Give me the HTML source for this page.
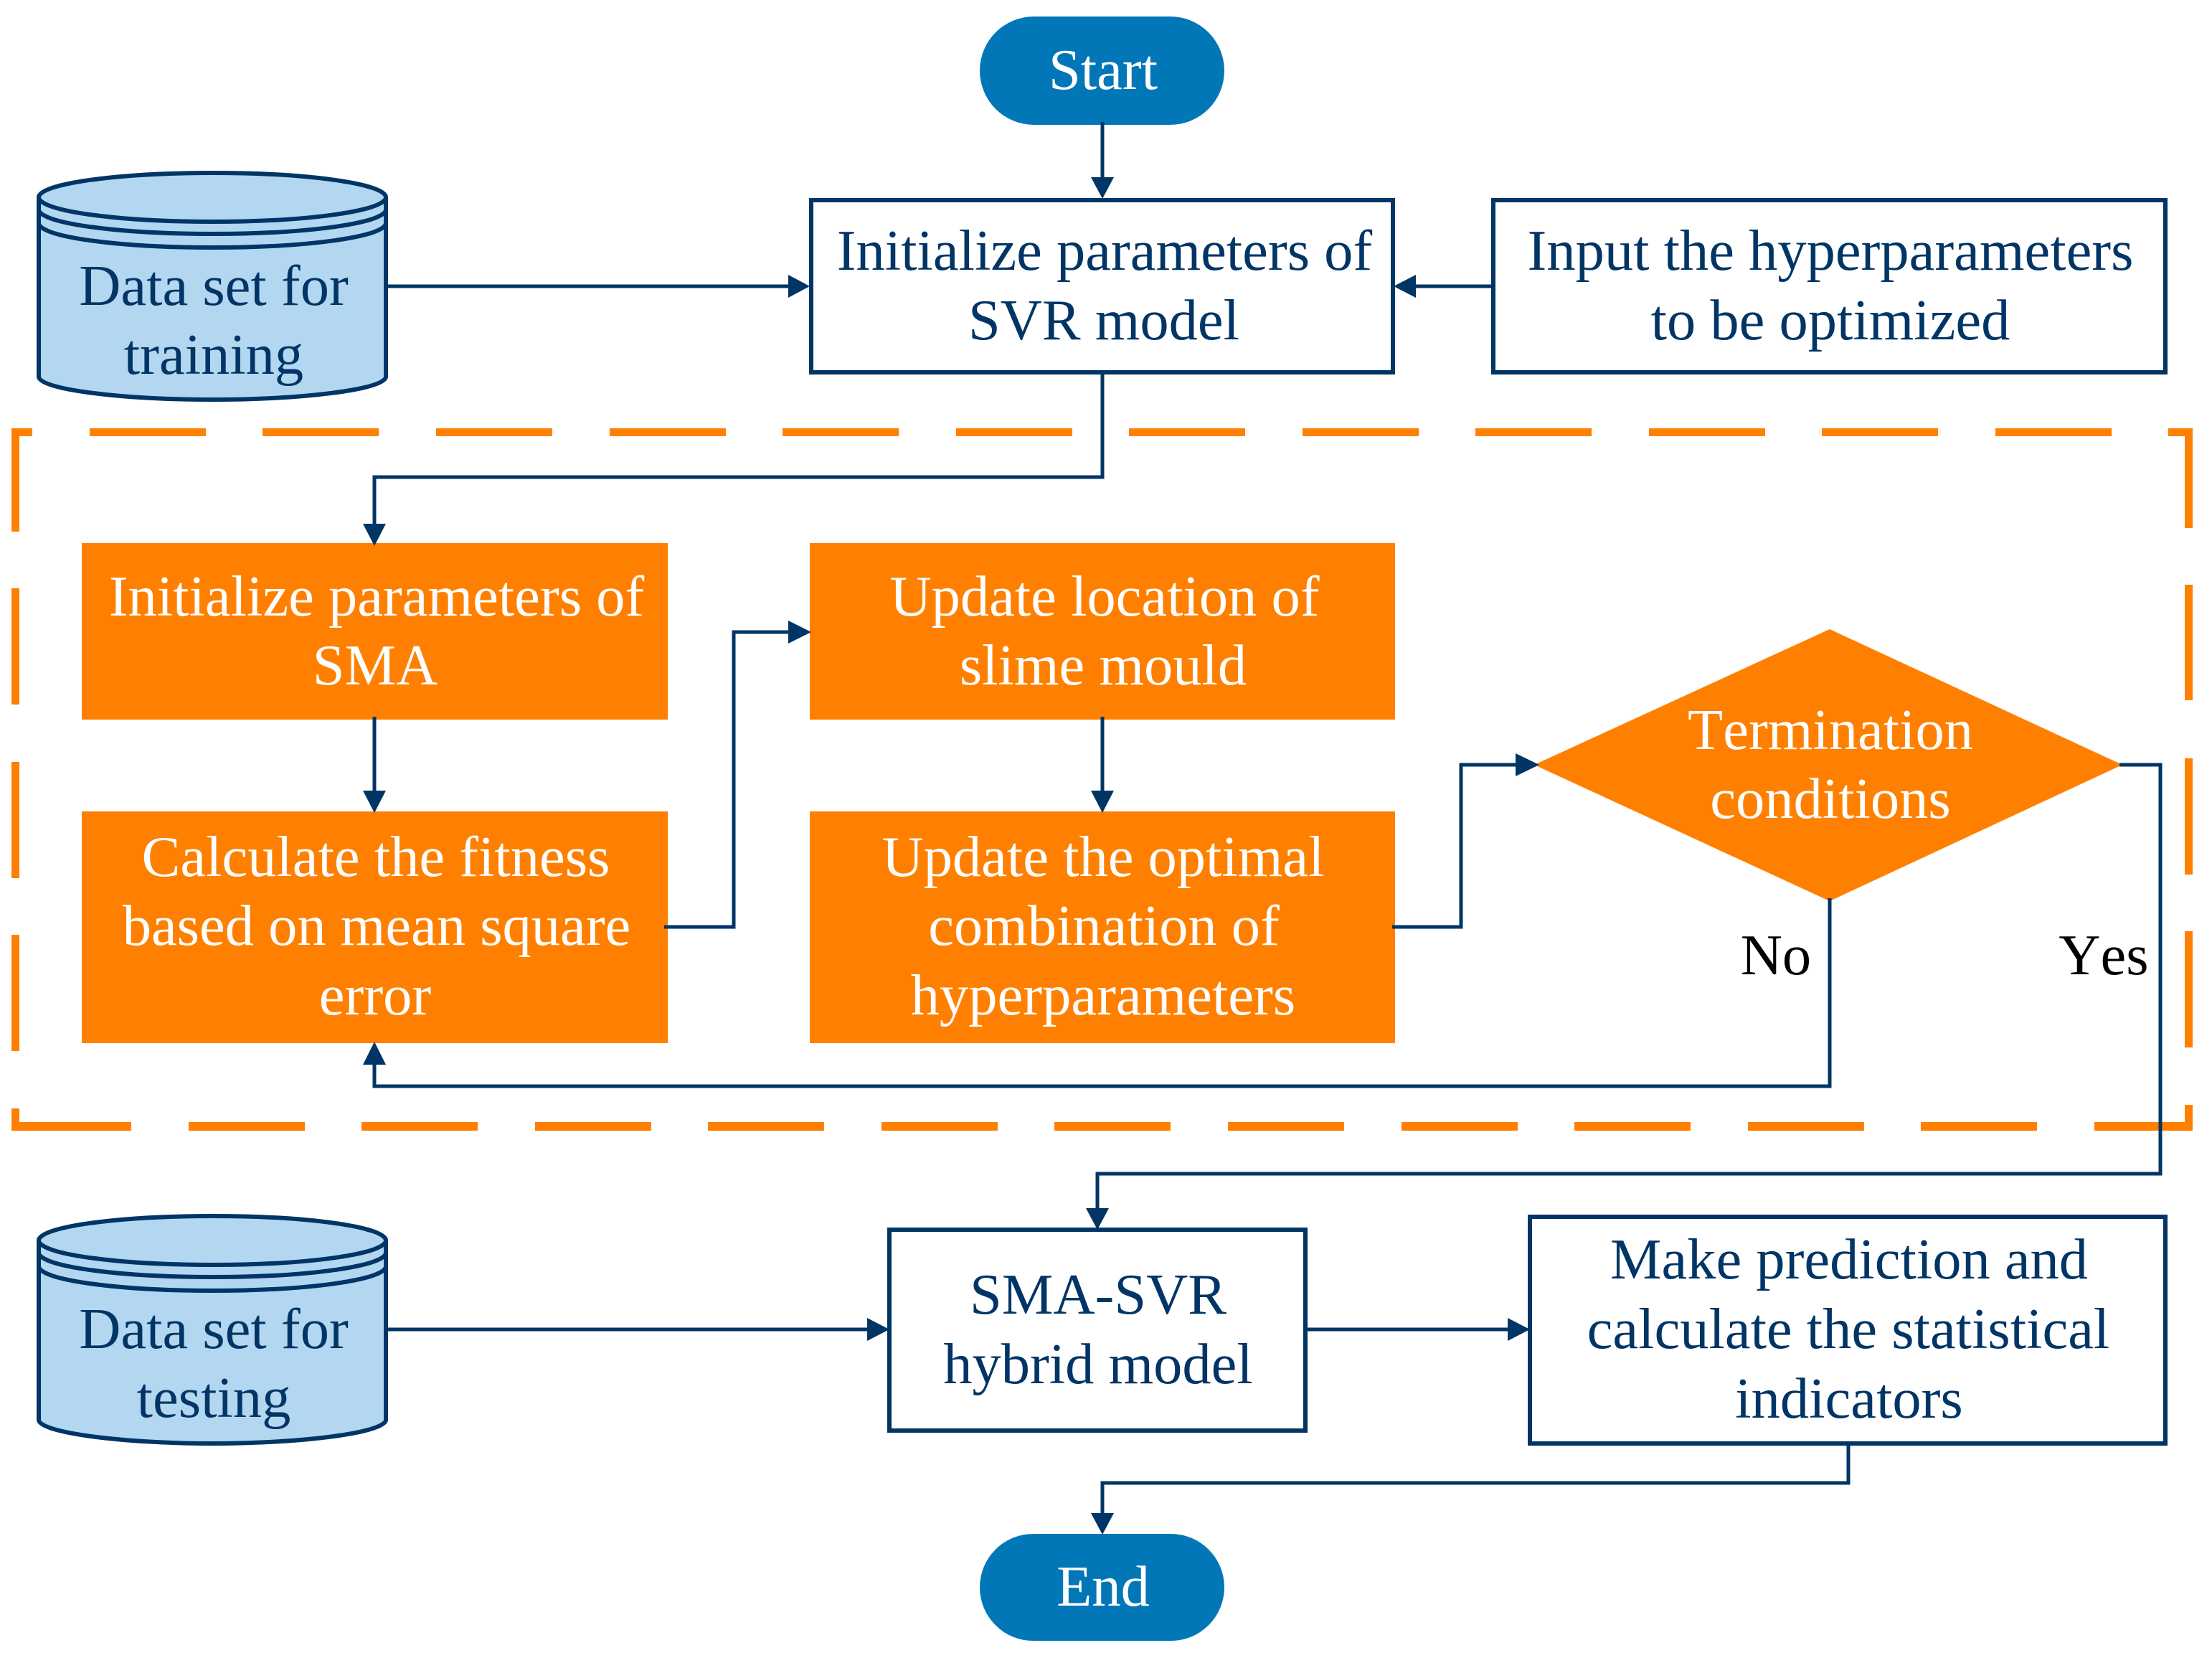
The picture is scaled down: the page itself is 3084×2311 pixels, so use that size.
<!DOCTYPE html>
<html><head><meta charset="utf-8"><style>
html,body{margin:0;padding:0;background:#fff}
svg{display:block}
text{font-family:"Liberation Serif",serif;font-size:80.5px;text-anchor:middle;font-kerning:none}
.n{fill:#003566}.w{fill:#fff}.k{fill:#000}
.l{fill:none;stroke:#003566;stroke-width:5}
.b{fill:#fff;stroke:#003566;stroke-width:6}
.c{fill:#b3d7f0;stroke:#003566;stroke-width:6}
.o{fill:#ff8000}
.a{fill:#003566}
</style></head><body>
<svg width="3084" height="2311" viewBox="0 0 3084 2311" xmlns="http://www.w3.org/2000/svg">
<g class="o">
<rect x="16" y="597" width="29" height="11"/>
<rect x="125" y="597" width="162" height="11"/><rect x="366" y="597" width="162" height="11"/><rect x="608" y="597" width="162" height="11"/><rect x="850" y="597" width="162" height="11"/><rect x="1091" y="597" width="162" height="11"/><rect x="1333" y="597" width="162" height="11"/><rect x="1574" y="597" width="162" height="11"/><rect x="1816" y="597" width="162" height="11"/><rect x="2057" y="597" width="162" height="11"/><rect x="2299" y="597" width="162" height="11"/><rect x="2540" y="597" width="162" height="11"/><rect x="2782" y="597" width="162" height="11"/><rect x="3023" y="597" width="34" height="11"/>
<rect x="16" y="597" width="11" height="144"/><rect x="16" y="820" width="11" height="162"/><rect x="16" y="1062" width="11" height="162"/><rect x="16" y="1303" width="11" height="162"/><rect x="16" y="1545" width="11" height="31"/>
<rect x="3046" y="597" width="11" height="139"/><rect x="3046" y="815" width="11" height="161"/><rect x="3046" y="1057" width="11" height="162"/><rect x="3046" y="1298" width="11" height="162"/><rect x="3046" y="1540" width="11" height="36"/>
<rect x="16" y="1564" width="167" height="12"/><rect x="263" y="1564" width="162" height="12"/><rect x="504" y="1564" width="162" height="12"/><rect x="746" y="1564" width="162" height="12"/><rect x="987" y="1564" width="162" height="12"/><rect x="1229" y="1564" width="162" height="12"/><rect x="1470" y="1564" width="162" height="12"/><rect x="1712" y="1564" width="162" height="12"/><rect x="1954" y="1564" width="162" height="12"/><rect x="2195" y="1564" width="162" height="12"/><rect x="2437" y="1564" width="162" height="12"/><rect x="2678" y="1564" width="162" height="12"/><rect x="2920" y="1564" width="137" height="12"/>
</g>

<rect x="1366" y="23" width="341" height="151" rx="75.5" fill="#0277b8"/>
<rect x="1366" y="2138" width="341" height="149" rx="74.5" fill="#0277b8"/>

<g class="o">
<rect x="114" y="757" width="817" height="246"/>
<rect x="114" y="1131" width="817" height="323"/>
<rect x="1129" y="757" width="816" height="246"/>
<rect x="1129" y="1131" width="816" height="323"/>
<polygon points="2139,1066 2551,877 2959,1066 2551,1256"/>
</g>

<g class="l">
<path d="M1537 170V250"/>
<path d="M540 399H1102"/>
<path d="M2081 399H1970"/>
<path d="M1537 522V665H522V733"/>
<path d="M522 999V1104"/>
<path d="M926 1292H1023V881H1102"/>
<path d="M1537 999V1104"/>
<path d="M1941 1292H2037V1066H2116"/>
<path d="M2551 1252V1514H522V1484"/>
<path d="M2955 1066H3012V1636H1530V1685"/>
<path d="M540 1853H1212"/>
<path d="M1821 1853H2106"/>
<path d="M2577 2012V2067H1537V2110"/>
</g>
<g class="a">
<polygon points="1521,247 1553,247 1537,277"/>
<polygon points="1099,383 1099,415 1129,399"/>
<polygon points="1974,383 1974,415 1943,399"/>
<polygon points="506,730 538,730 522,761"/>
<polygon points="506,1102 538,1102 522,1133"/>
<polygon points="1099,865 1099,897 1131,881"/>
<polygon points="1521,1102 1553,1102 1537,1133"/>
<polygon points="2113,1050 2113,1082 2146,1066"/>
<polygon points="506,1484 538,1484 522,1452"/>
<polygon points="1514,1684 1546,1684 1530,1714"/>
<polygon points="1209,1837 1209,1869 1240,1853"/>
<polygon points="2102,1837 2102,1869 2133,1853"/>
<polygon points="1521,2109 1553,2109 1537,2139"/>
</g>

<rect class="b" x="1131" y="279" width="811" height="240"/>
<rect class="b" x="2082" y="279" width="937" height="240"/>
<rect class="b" x="1240" y="1714" width="580" height="280"/>
<rect class="b" x="2133" y="1696" width="886" height="316"/>

<g class="c">
<path d="M54 275A242 34 0 0 1 538 275V525C538 543 420 557 296 557C172 557 54 543 54 525Z"/>
<path d="M54 275A242 34 0 0 0 538 275M54 292A242 34 0 0 0 538 292M54 311A242 34 0 0 0 538 311" fill="none"/>
<path d="M54 1729A242 34 0 0 1 538 1729V1979C538 1997 420 2012 296 2012C172 2012 54 1997 54 1979Z"/>
<path d="M54 1729A242 34 0 0 0 538 1729M54 1746A242 34 0 0 0 538 1746M54 1765A242 34 0 0 0 538 1765" fill="none"/>
</g>

<text class="w" x="1538" y="124">Start</text>
<text class="w" x="1538" y="2238">End</text>
<text class="n" x="298" y="425">Data set for</text>
<text class="n" x="298" y="521">training</text>
<text class="n" x="1540" y="376">Initialize parameters of</text>
<text class="n" x="1539" y="473">SVR model</text>
<text class="n" x="2552" y="376">Input the hyperparameters</text>
<text class="n" x="2552" y="473">to be optimized</text>
<text class="w" x="525" y="858">Initialize parameters of</text>
<text class="w" x="523" y="954">SMA</text>
<text class="w" x="524" y="1221">Calculate the fitness</text>
<text class="w" x="525" y="1317">based on mean square</text>
<text class="w" x="523" y="1414">error</text>
<text class="w" x="1540" y="858">Update location of</text>
<text class="w" x="1538" y="954">slime mould</text>
<text class="w" x="1538" y="1221">Update the optimal</text>
<text class="w" x="1539" y="1317">combination of</text>
<text class="w" x="1538" y="1414">hyperparameters</text>
<text class="w" x="2552" y="1044">Termination</text>
<text class="w" x="2552" y="1140">conditions</text>
<text class="k" x="2476" y="1358">No</text>
<text class="k" x="2933" y="1358">Yes</text>
<text class="n" x="298" y="1879">Data set for</text>
<text class="n" x="298" y="1975">testing</text>
<text class="n" x="1531" y="1831">SMA-SVR</text>
<text class="n" x="1531" y="1928">hybrid model</text>
<text class="n" x="2578" y="1782">Make prediction and</text>
<text class="n" x="2577" y="1879">calculate the statistical</text>
<text class="n" x="2578" y="1976">indicators</text>
</svg>
</body></html>
